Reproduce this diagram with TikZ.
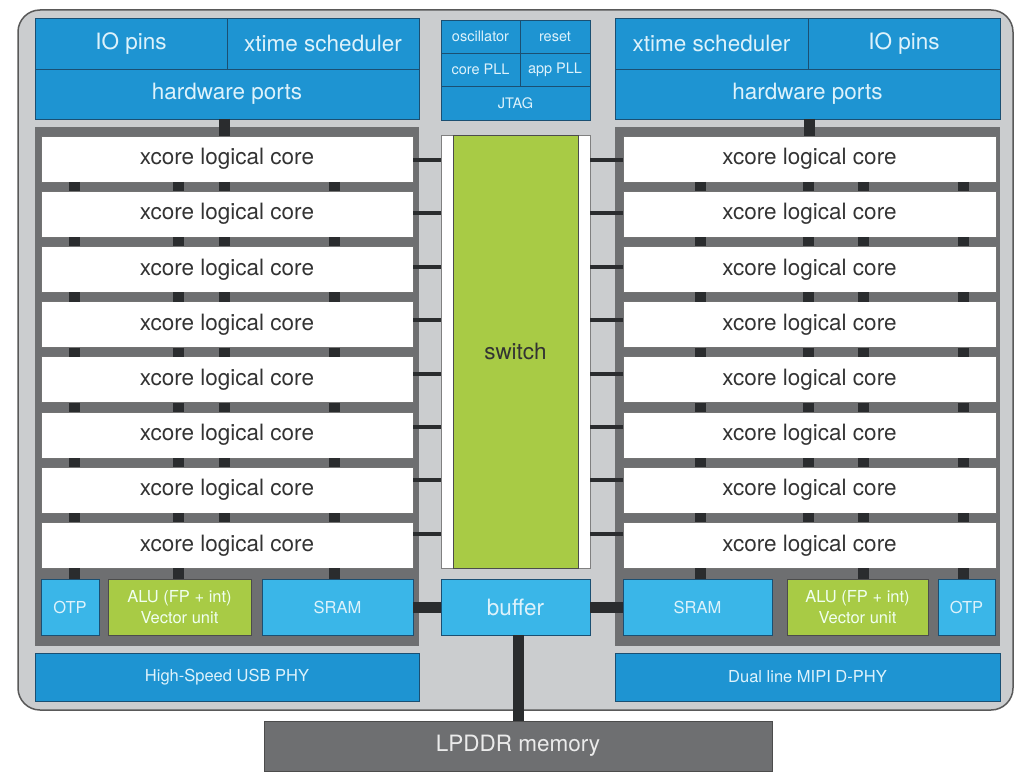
\documentclass[tikz,border=0pt]{standalone}
\usepackage{fontspec}
\setmainfont{TeX Gyre Heros}
\usetikzlibrary{positioning,calc}
\definecolor{xblue}{HTML}{1E94D2}
\definecolor{xlight}{HTML}{3AB6E8}
\definecolor{xgreen}{HTML}{A8CB45}
\definecolor{chipgrey}{HTML}{CBCDCF}
\definecolor{panelgrey}{HTML}{6E6F71}
\definecolor{wire}{HTML}{2A2C2E}
\definecolor{navy}{HTML}{1B4F72}
\definecolor{paletext}{HTML}{DDF2FB}
\newcommand{\sizebig}{\fontsize{22.5}{26}\selectfont}
\newcommand{\sizemid}{\fontsize{16.5}{21}\selectfont}
\newcommand{\sizesmall}{\fontsize{14.5}{17}\selectfont}

\begin{document}
\begin{tikzpicture}[
  x=1pt, y=-1pt,
  base/.style={inner sep=0pt, outer sep=0pt, anchor=north west},
  chip/.style={base, draw=black!65, line width=1.5pt, fill=chipgrey, rounded corners=22pt},
  blk/.style={base, draw=navy, line width=0.8pt, fill=xblue, text=paletext, font=\sizebig},
  lite/.style={base, draw=navy, line width=0.8pt, fill=xlight, text=paletext, font=\sizemid},
  alu/.style={base, draw=black!70, line width=0.8pt, fill=xgreen, text=green!6!white, align=center, font=\sizemid},
  core/.style={base, draw=black!55, line width=0.8pt, fill=white, text=black!80, minimum height=46pt, font=\sizebig},
  panel/.style={base, fill=panelgrey},
  bus/.style={draw=wire, line width=11pt},
  link/.style={draw=wire, line width=4pt}
]
\useasboundingbox (0,0) rectangle (1033,778);
\node[chip, minimum width=995pt, minimum height=700pt] (chip) at (18,10) {};

% tile top blocks
\node[blk, minimum width=192pt, minimum height=51pt] (iol) at (35,18) {IO pins};
\node[blk, minimum width=192pt, minimum height=51pt, right=0pt of iol] (xtl) {xtime scheduler};
\node[blk, minimum width=384pt, minimum height=50pt] (hwl) at (iol.south west) {hardware ports};
\node[blk, minimum width=193pt, minimum height=51pt] (xtr) at (615,18) {xtime scheduler};
\node[blk, minimum width=192pt, minimum height=51pt, right=0pt of xtr] (ior) {IO pins};
\node[blk, minimum width=385pt, minimum height=50pt] (hwr) at (xtr.south west) {hardware ports};

% clocking
\node[blk, font=\sizesmall, minimum width=79pt, minimum height=33pt] (osc) at (441,20) {oscillator};
\node[blk, font=\sizesmall, minimum width=70pt, minimum height=33pt, right=0pt of osc] (rst) {reset};
\node[blk, font=\sizesmall, minimum width=79pt, minimum height=33pt] (cpll) at (osc.south west) {core PLL};
\node[blk, font=\sizesmall, minimum width=70pt, minimum height=33pt, right=0pt of cpll] (apll) {app PLL};
\node[blk, font=\sizesmall, minimum width=149pt, minimum height=34pt] (jtag) at (cpll.south west) {JTAG};

% core panels and switch
\node[panel, minimum width=384pt, minimum height=519pt] (pl) at (35,127) {};
\node[panel, minimum width=385pt, minimum height=519pt] (pr) at (615,127) {};
\node[base, draw=black!50, fill=white, minimum width=149pt, minimum height=433pt] (swframe) at (441,135) {};
\node[base, draw=black!70, fill=xgreen, text=black!80, font=\sizebig, minimum width=125pt, minimum height=433pt] (switch) at (453,135) {switch};

\foreach \i in {1,...,8}{
  \node[core, minimum width=372pt] (L\i) at (41,{136+55.2*(\i-1)}) {xcore logical core};
  \node[core, minimum width=373pt] (R\i) at (623,{136+55.2*(\i-1)}) {xcore logical core};
}

% memories and units
\node[lite, minimum width=58pt, minimum height=56pt] (otpl) at (41,579) {OTP};
\node[alu, minimum width=143pt, minimum height=56pt] (alul) at (108,579) {ALU (FP + int)\\Vector unit};
\node[lite, minimum width=151pt, minimum height=56pt] (sraml) at (262,579) {SRAM};
\node[lite, minimum width=149pt, minimum height=56pt] (sramr) at (623,579) {SRAM};
\node[alu, minimum width=141pt, minimum height=56pt] (alur) at (787,579) {ALU (FP + int)\\Vector unit};
\node[lite, minimum width=57pt, minimum height=56pt] (otpr) at (938,579) {OTP};
\node[lite, font=\sizebig, minimum width=149pt, minimum height=56pt] (buffer) at (441,579) {buffer};

% phys and memory
\node[blk, font=\sizemid, minimum width=384pt, minimum height=48pt] (usb) at (35,653) {High-Speed USB PHY};
\node[blk, font=\sizemid, minimum width=385pt, minimum height=48pt] (mipi) at (615,653) {Dual line MIPI D-PHY};
\node[base, draw=black!70, fill=panelgrey, text=black!8, font=\sizebig, minimum width=508pt, minimum height=50pt] (ddr) at (264,721) {LPDDR memory};

% wiring
\draw[bus] ([xshift=-3pt]hwl.south) -- ([xshift=-3pt]L1.north);
\draw[bus] ([xshift=1.5pt]hwr.south) -- ([xshift=-0.5pt]R1.north);
\foreach \i [evaluate=\i as \j using int(\i+1)] in {1,...,7}{
  \foreach \dx in {-153,-48.5,-2.5,107.5}
    \draw[bus] ([xshift=\dx pt]L\i.south) -- ([xshift=\dx pt]L\j.north);
  \foreach \dx in {-109.5,-1.5,53.5,153.5}
    \draw[bus] ([xshift=\dx pt]R\i.south) -- ([xshift=\dx pt]R\j.north);
}
\foreach \dx/\t in {-153/otpl,-48.5/alul,107.5/sraml}{
  \path ([xshift=\dx pt]L8.south) coordinate (tl);
  \draw[bus] (tl) -- (tl |- \t.north);
}
\foreach \dx/\t in {-109.5/sramr,53.5/alur,153.5/otpr}{
  \path ([xshift=\dx pt]R8.south) coordinate (tr);
  \draw[bus] (tr) -- (tr |- \t.north);
}
\foreach \i [evaluate=\i as \dy using 1.8*(\i-1)-1] in {1,...,8}{
  \path ([yshift=\dy pt]L\i.east) coordinate (cl\i);
  \draw[link] (cl\i) -- (cl\i -| swframe.west);
  \path ([yshift=\dy pt]R\i.west) coordinate (cr\i);
  \draw[link] (cr\i) -- (cr\i -| swframe.east);
}
\draw[bus] (sraml.east) -- (buffer.west);
\draw[bus] (buffer.east) -- (sramr.west);
\draw[bus] (buffer.south -| ddr.north) -- (ddr.north);
\end{tikzpicture}
\end{document}
